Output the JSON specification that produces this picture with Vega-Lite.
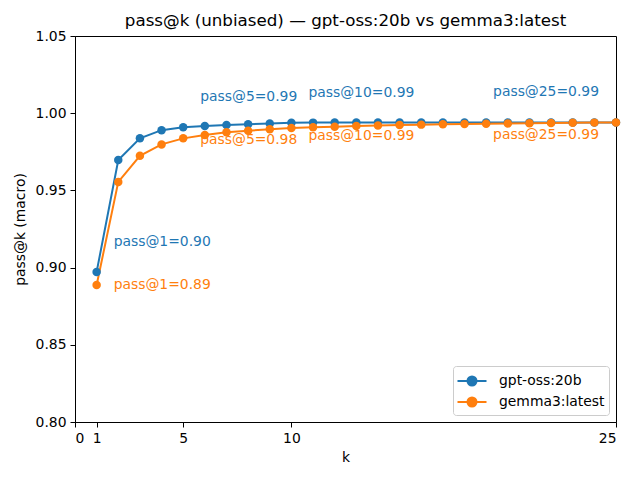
{
  "$schema": "https://vega.github.io/schema/vega-lite/v6.json",
  "width": 541,
  "height": 386,
  "autosize": {"type": "none"},
  "padding": {"left": 75, "top": 36, "right": 24, "bottom": 58},
  "config": {
    "font": "DejaVu Sans",
    "view": {"stroke": "black", "strokeWidth": 1},
    "axis": {
      "grid": false,
      "domainColor": "black",
      "tickColor": "black",
      "tickSize": 5,
      "labelPadding": 4,
      "labelFontSize": 13.9,
      "labelColor": "black",
      "titleFontSize": 13.9,
      "titleFontWeight": "normal",
      "titleColor": "black"
    }
  },
  "title": {
    "text": "pass@k (unbiased) — gpt-oss:20b vs gemma3:latest",
    "fontSize": 16.7,
    "fontWeight": "normal",
    "color": "black",
    "anchor": "middle",
    "offset": -1
  },
  "data": {
    "values": [
      {"k": 1, "gpt-oss:20b": 0.8972, "gemma3:latest": 0.8887},
      {"k": 2, "gpt-oss:20b": 0.9697, "gemma3:latest": 0.9555},
      {"k": 3, "gpt-oss:20b": 0.9837, "gemma3:latest": 0.9724},
      {"k": 4, "gpt-oss:20b": 0.989, "gemma3:latest": 0.9798},
      {"k": 5, "gpt-oss:20b": 0.9909, "gemma3:latest": 0.9837},
      {"k": 6, "gpt-oss:20b": 0.9917, "gemma3:latest": 0.9859},
      {"k": 7, "gpt-oss:20b": 0.9924, "gemma3:latest": 0.9876},
      {"k": 8, "gpt-oss:20b": 0.9929, "gemma3:latest": 0.9887},
      {"k": 9, "gpt-oss:20b": 0.9934, "gemma3:latest": 0.9896},
      {"k": 10, "gpt-oss:20b": 0.9938, "gemma3:latest": 0.9904},
      {"k": 11, "gpt-oss:20b": 0.9939, "gemma3:latest": 0.9909},
      {"k": 12, "gpt-oss:20b": 0.994, "gemma3:latest": 0.9913},
      {"k": 13, "gpt-oss:20b": 0.994, "gemma3:latest": 0.9917},
      {"k": 14, "gpt-oss:20b": 0.994, "gemma3:latest": 0.992},
      {"k": 15, "gpt-oss:20b": 0.994, "gemma3:latest": 0.9923},
      {"k": 16, "gpt-oss:20b": 0.994, "gemma3:latest": 0.9926},
      {"k": 17, "gpt-oss:20b": 0.994, "gemma3:latest": 0.9928},
      {"k": 18, "gpt-oss:20b": 0.994, "gemma3:latest": 0.993},
      {"k": 19, "gpt-oss:20b": 0.994, "gemma3:latest": 0.9932},
      {"k": 20, "gpt-oss:20b": 0.994, "gemma3:latest": 0.9934},
      {"k": 21, "gpt-oss:20b": 0.994, "gemma3:latest": 0.9935},
      {"k": 22, "gpt-oss:20b": 0.994, "gemma3:latest": 0.9937},
      {"k": 23, "gpt-oss:20b": 0.994, "gemma3:latest": 0.9938},
      {"k": 24, "gpt-oss:20b": 0.994, "gemma3:latest": 0.9939},
      {"k": 25, "gpt-oss:20b": 0.994, "gemma3:latest": 0.994}
    ]
  },
  "layer": [
    {
      "transform": [{"fold": ["gpt-oss:20b", "gemma3:latest"], "as": ["model", "value"]}],
      "mark": {"type": "line", "strokeWidth": 2},
      "encoding": {
        "x": {"field": "k", "type": "quantitative", "scale": {"domain": [0, 25], "nice": false}, "axis": {"values": [0, 1, 5, 10, 25], "title": "k", "titlePadding": 6}},
        "y": {"field": "value", "type": "quantitative", "scale": {"domain": [0.8, 1.05], "nice": false, "zero": false}, "axis": {"values": [0.8, 0.85, 0.9, 0.95, 1.0, 1.05], "format": ".2f", "title": "pass@k (macro)", "titlePadding": 8}},
        "color": {
          "field": "model", "type": "nominal",
          "scale": {"domain": ["gpt-oss:20b", "gemma3:latest"], "range": ["#1f77b4", "#ff7f0e"]},
          "legend": {
            "title": null,
            "orient": "bottom-right",
            "offset": 7,
            "padding": 4,
            "strokeColor": "#cccccc",
            "fillColor": "rgba(255,255,255,0.8)",
            "cornerRadius": 3,
            "labelFontSize": 13.9,
            "labelColor": "black",
            "labelOffset": 16,
            "rowPadding": 1,
            "symbolType": "M-1.45,0L1.45,0M0.45,0A0.45,0.45,0,1,1,-0.45,0A0.45,0.45,0,1,1,0.45,0Z",
            "symbolSize": 400,
            "symbolStrokeWidth": 2,
            "symbolOffset": 4
          }
        },
        "order": {"field": "k", "type": "quantitative"}
      }
    },
    {
      "transform": [{"fold": ["gpt-oss:20b", "gemma3:latest"], "as": ["model", "value"]}],
      "mark": {"type": "point", "filled": true, "size": 72, "opacity": 1},
      "encoding": {
        "x": {"field": "k", "type": "quantitative"},
        "y": {"field": "value", "type": "quantitative"},
        "color": {"field": "model", "type": "nominal"}
      }
    },
    {
      "transform": [
        {"filter": "indexof([1, 5, 10, 25], datum.k) >= 0"},
        {"calculate": "'pass@' + datum.k + '=' + format(datum['gpt-oss:20b'], '.2f')", "as": "lab"}
      ],
      "mark": {"type": "text", "fontSize": 13.9, "color": "#1f77b4", "baseline": "middle", "dy": -30, "align": {"expr": "datum.k == 25 ? 'right' : 'left'"}, "dx": {"expr": "datum.k == 25 ? -17 : 17"}},
      "encoding": {
        "x": {"field": "k", "type": "quantitative"},
        "y": {"field": "gpt-oss:20b", "type": "quantitative"},
        "text": {"field": "lab"}
      }
    },
    {
      "transform": [
        {"filter": "indexof([1, 5, 10, 25], datum.k) >= 0"},
        {"calculate": "'pass@' + datum.k + '=' + format(datum['gemma3:latest'], '.2f')", "as": "lab"}
      ],
      "mark": {"type": "text", "fontSize": 13.9, "color": "#ff7f0e", "baseline": "middle", "dy": 13, "align": {"expr": "datum.k == 25 ? 'right' : 'left'"}, "dx": {"expr": "datum.k == 25 ? -17 : 17"}},
      "encoding": {
        "x": {"field": "k", "type": "quantitative"},
        "y": {"field": "gpt-oss:20b", "type": "quantitative"},
        "text": {"field": "lab"}
      }
    }
  ]
}
